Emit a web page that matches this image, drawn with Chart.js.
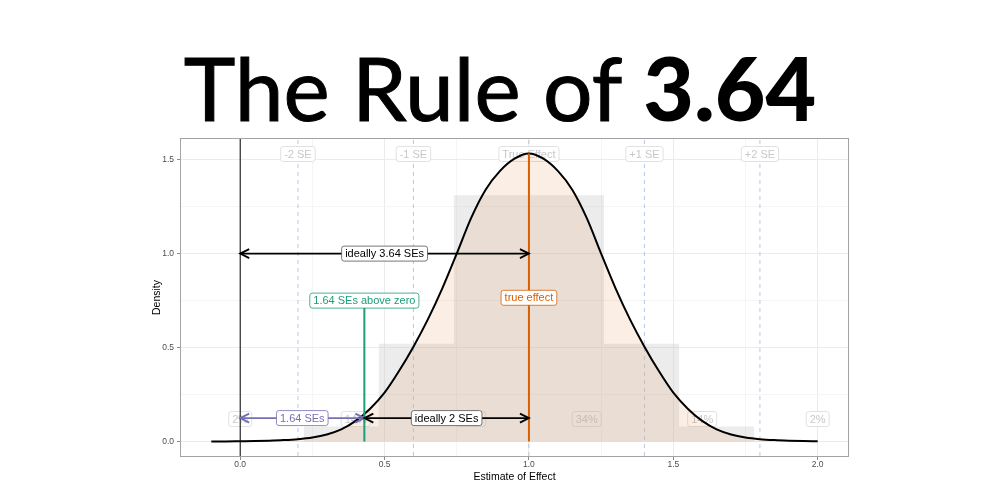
<!DOCTYPE html>
<html>
<head>
<meta charset="utf-8">
<script src="https://cdn.jsdelivr.net/npm/chart.js@4.4.1/dist/chart.umd.min.js"></script>
<style>
  html, body { margin: 0; padding: 0; background: #fff; }
  #wrap { position: relative; width: 1000px; height: 500px; overflow: hidden; }
  #title {
    position: absolute; left: 0; top: 43px; width: 1000px;
    text-align: center; font-family: Lato, "Open Sans", sans-serif;
    font-size: 87.5px; line-height: 1; color: #000; white-space: nowrap;
  }
  #title .reg { -webkit-text-stroke: 1px #000; }
  #title b { font-weight: 900; }
  #base { display: inline-block; width: 0; height: 0; vertical-align: baseline; }
  #chart { position: absolute; left: 0; top: 0; }
</style>
</head>
<body>
<div id="wrap">
  <canvas id="chart" width="1000" height="500"></canvas>
  <div id="title"><span class="reg">The Rule of </span><b>3.64</b><span id="base"></span></div>
</div>
<script>
// sampling distribution of the estimate
const effectX = [-0.10, -0.05, 0.00, 0.05, 0.10, 0.15, 0.20, 0.25, 0.30, 0.35, 0.40,
                 0.45, 0.50, 0.55, 0.60, 0.65, 0.70, 0.75, 0.80, 0.85, 0.90, 0.95,
                 1.00, 1.05, 1.10, 1.15, 1.20, 1.25, 1.30, 1.35, 1.40, 1.45, 1.50,
                 1.55, 1.60, 1.65, 1.70, 1.75, 1.80, 1.85, 1.90, 1.95, 2.00];
const density = [0.0005, 0.001, 0.002, 0.003, 0.005, 0.008, 0.013, 0.022, 0.038, 0.065, 0.110,
                 0.175, 0.260, 0.375, 0.505, 0.650, 0.815, 1.000, 1.190, 1.340, 1.440, 1.505,
                 1.533, 1.505, 1.440, 1.340, 1.190, 1.000, 0.815, 0.650, 0.505, 0.375, 0.260,
                 0.175, 0.110, 0.065, 0.038, 0.022, 0.013, 0.008, 0.005, 0.003, 0.002];

// grey bins (one SE wide)
const binEdges = [0.22, 0.48, 0.74, 1.00, 1.26, 1.52, 1.78];
const binHeights = [0.08, 0.52, 1.31, 1.31, 0.52, 0.08];

// faint reference labels
const seLineX = [0.2, 0.6, 1.0, 1.4, 1.8];
const seLabels = ['-2 SE', '-1 SE', 'True Effect', '+1 SE', '+2 SE'];
const seLabelY = 1.53;
const pctX = [0.0, 0.4, 0.8, 1.2, 1.6, 2.0];
const pctLabels = ['2%', '14%', '34%', '34%', '14%', '2%'];
const pctY = 0.12;

// arrows
const arrowFrom = [0.00, 0.00, 0.43];
const arrowTo = [1.00, 0.43, 1.00];
const arrowY = [1.00, 0.125, 0.125];
const arrowText = ['ideally 3.64 SEs', '1.64 SEs', 'ideally 2 SEs'];
const arrowColor = ['#000000', '#7570b3', '#000000'];

// vertical markers
const zeroX = 0;
const sigX = 0.43, sigTop = 0.75, sigText = '1.64 SEs above zero';
const trueX = 1.0, trueTop = 1.533, trueLabelY = 0.765, trueText = 'true effect';

const xMin = -0.205, xMax = 2.105;
const yMin = -0.0767, yMax = 1.6097;
const xTicks = [0, 0.25, 0.5, 0.75, 1, 1.25, 1.5, 1.75, 2];
const yTicks = [0, 0.25, 0.5, 0.75, 1, 1.25, 1.5];

const GREEN = '#1b9e77', ORANGE = '#d95f02';
const FONT = '"Liberation Sans", Arial, sans-serif';
const TITLE_BASELINE = 121;

const isMajor = v => Math.abs(v * 2 - Math.round(v * 2)) < 1e-9;

function roundBox(ctx, x, y, w, h, r) {
    ctx.beginPath();
    ctx.moveTo(x + r, y);
    ctx.arcTo(x + w, y, x + w, y + h, r);
    ctx.arcTo(x + w, y + h, x, y + h, r);
    ctx.arcTo(x, y + h, x, y, r);
    ctx.arcTo(x, y, x + w, y, r);
    ctx.closePath();
}

function drawLabel(ctx, text, px, py, color, border, fill) {
    ctx.save();
    ctx.font = '11px ' + FONT;
    const w = ctx.measureText(text).width + 7, h = 15;
    roundBox(ctx, px - w / 2, py - h / 2, w, h, 2.5);
    ctx.fillStyle = fill;
    ctx.fill();
    ctx.lineWidth = 0.8;
    ctx.strokeStyle = border;
    ctx.stroke();
    ctx.fillStyle = color;
    ctx.textAlign = 'center';
    ctx.textBaseline = 'middle';
    ctx.fillText(text, px, py + 0.5);
    ctx.restore();
}

function arrowHead(ctx, tipX, tipY, dir, color) {
    ctx.save();
    ctx.beginPath();
    ctx.moveTo(tipX - dir * 9, tipY - 4.5);
    ctx.lineTo(tipX, tipY);
    ctx.lineTo(tipX - dir * 9, tipY + 4.5);
    ctx.strokeStyle = color;
    ctx.lineWidth = 1.8;
    ctx.stroke();
    ctx.restore();
}

const annotations = {
    id: 'annotations',
    afterDatasetDraw(chart, args) {
        // faint labels sit above the dashed SE lines but under everything else
        if (chart.data.datasets[args.index].id !== 'seLines') return;
        const { ctx, scales: { x, y } } = chart;
        seLabels.forEach((t, i) => drawLabel(ctx, t, x.getPixelForValue(seLineX[i]), y.getPixelForValue(seLabelY),
            '#c8c8c8', '#d9d9d9', '#ffffff'));
        pctLabels.forEach((t, i) => drawLabel(ctx, t, x.getPixelForValue(pctX[i]), y.getPixelForValue(pctY),
            '#c8c8c8', '#d9d9d9', '#ffffff'));
    },
    afterDatasetsDraw(chart) {
        const { ctx, chartArea: a, scales: { x, y } } = chart;
        arrowText.forEach((t, i) => {
            const py = y.getPixelForValue(arrowY[i]);
            arrowHead(ctx, x.getPixelForValue(arrowFrom[i]), py, -1, arrowColor[i]);
            arrowHead(ctx, x.getPixelForValue(arrowTo[i]), py, 1, arrowColor[i]);
        });
        arrowText.forEach((t, i) => {
            const mid = (arrowFrom[i] + arrowTo[i]) / 2;
            drawLabel(ctx, t, x.getPixelForValue(mid), y.getPixelForValue(arrowY[i]),
                arrowColor[i], arrowColor[i] === '#000000' ? '#555555' : arrowColor[i], '#ffffff');
        });
        drawLabel(ctx, sigText, x.getPixelForValue(sigX), y.getPixelForValue(sigTop), GREEN, GREEN, '#ffffff');
        drawLabel(ctx, trueText, x.getPixelForValue(trueX), y.getPixelForValue(trueLabelY), ORANGE, ORANGE, '#ffffff');
        // panel border
        ctx.save();
        ctx.strokeStyle = '#a3a3a3';
        ctx.lineWidth = 1;
        ctx.strokeRect(Math.round(a.left) - 0.5, Math.round(a.top) - 0.5,
            Math.round(a.right - a.left) + 1, Math.round(a.bottom - a.top) + 1);
        ctx.restore();
    }
};

const vline = (xv, y0, y1) => [{ x: xv, y: y0 }, { x: xv, y: y1 }];

const datasets = [
    {
        id: 'seLines',
        data: seLineX.flatMap(v => [{ x: v, y: yMin }, { x: v, y: yMax }, { x: v, y: null }]),
        borderColor: 'rgba(150,178,216,0.7)', borderWidth: 1, borderDash: [4, 4],
        spanGaps: false, order: 30
    },
    {
        data: binEdges.map((e, i) => ({ x: e, y: binHeights[Math.min(i, binHeights.length - 1)] })),
        stepped: 'before', fill: 'origin', backgroundColor: 'rgba(200,200,200,0.35)',
        borderWidth: 0, order: 20
    },
    {
        data: vline(zeroX, yMin, yMax),
        borderColor: '#000', borderWidth: 1, order: 15
    },
    {
        data: effectX.map((v, i) => ({ x: v, y: density[i] })),
        borderColor: '#000', borderWidth: 2, fill: 'origin',
        backgroundColor: 'rgba(217,95,2,0.10)', cubicInterpolationMode: 'monotone', order: 10
    },
    {
        data: vline(sigX, 0, sigTop),
        borderColor: GREEN, borderWidth: 2, order: 5
    },
    {
        data: vline(trueX, 0, trueTop),
        borderColor: ORANGE, borderWidth: 2, order: 5
    },
    ...arrowText.map((t, i) => ({
        data: [{ x: arrowFrom[i], y: arrowY[i] }, { x: arrowTo[i], y: arrowY[i] }],
        borderColor: arrowColor[i], borderWidth: 1.8, order: 2
    }))
];

Chart.defaults.font.family = FONT;

new Chart(document.getElementById('chart'), {
    type: 'line',
    data: { datasets: datasets.map(d => Object.assign({ pointRadius: 0, fill: false }, d)) },
    options: {
        responsive: false,
        animation: false,
        layout: { padding: { left: 145, right: 152, top: 139, bottom: 14 } },
        plugins: { legend: { display: false }, tooltip: { enabled: false } },
        scales: {
            x: {
                type: 'linear', min: xMin, max: xMax,
                afterBuildTicks: s => { s.ticks = xTicks.map(v => ({ value: v })); },
                afterFit: s => { s.height = 30; },
                border: { display: false },
                grid: {
                    color: c => isMajor(c.tick.value) ? '#ebebeb' : '#f5f5f5',
                    tickColor: c => isMajor(c.tick.value) ? '#8a8a8a' : 'rgba(0,0,0,0)',
                    tickLength: 4
                },
                ticks: {
                    autoSkip: false, maxRotation: 0, padding: 0,
                    color: '#4d4d4d', font: { size: 8.5 },
                    callback: v => isMajor(v) ? v.toFixed(1) : ''
                },
                title: { display: true, text: 'Estimate of Effect', color: '#000', font: { size: 10.5 }, padding: { top: 0, bottom: 3 } }
            },
            y: {
                type: 'linear', min: yMin, max: yMax,
                afterBuildTicks: s => { s.ticks = yTicks.map(v => ({ value: v })); },
                afterFit: s => { s.width = 36; },
                border: { display: false },
                grid: {
                    color: c => isMajor(c.tick.value) ? '#ebebeb' : '#f5f5f5',
                    tickColor: c => isMajor(c.tick.value) ? '#8a8a8a' : 'rgba(0,0,0,0)',
                    tickLength: 4
                },
                ticks: {
                    autoSkip: false, padding: 3,
                    color: '#4d4d4d', font: { size: 8.5 },
                    callback: v => isMajor(v) ? v.toFixed(1) : ''
                },
                title: { display: true, text: 'Density', color: '#000', font: { size: 10.5 }, padding: { top: 6, bottom: 0 } }
            }
        }
    },
    plugins: [annotations]
});

// put the title's baseline where the reference has it
function placeTitle() {
    const t = document.getElementById('title');
    const base = document.getElementById('base').getBoundingClientRect().bottom;
    t.style.top = (t.offsetTop + TITLE_BASELINE - base) + 'px';
}
placeTitle();
if (document.fonts && document.fonts.ready) document.fonts.ready.then(placeTitle);
</script>
</body>
</html>
